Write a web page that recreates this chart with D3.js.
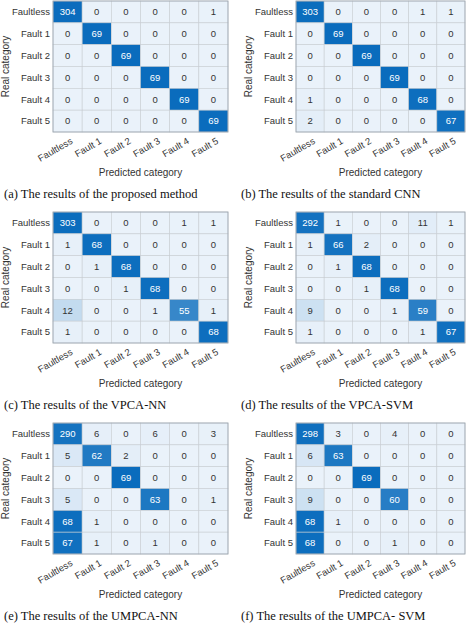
<!DOCTYPE html>
<html><head><meta charset="utf-8">
<script src="https://cdn.jsdelivr.net/npm/d3@7"></script>
<style>body{margin:0;background:#fff}</style>
</head><body><svg width="474" height="624"></svg>
<script>
const categories = ["Faultless", "Fault 1", "Fault 2", "Fault 3", "Fault 4", "Fault 5"];
const matA = [[304,0,0,0,0,1],[0,69,0,0,0,0],[0,0,69,0,0,0],[0,0,0,69,0,0],[0,0,0,0,69,0],[0,0,0,0,0,69]];
const matB = [[303,0,0,0,1,1],[0,69,0,0,0,0],[0,0,69,0,0,0],[0,0,0,69,0,0],[1,0,0,0,68,0],[2,0,0,0,0,67]];
const matC = [[303,0,0,0,1,1],[1,68,0,0,0,0],[0,1,68,0,0,0],[0,0,1,68,0,0],[12,0,0,1,55,1],[1,0,0,0,0,68]];
const matD = [[292,1,0,0,11,1],[1,66,2,0,0,0],[0,1,68,0,0,0],[0,0,1,68,0,0],[9,0,0,1,59,0],[1,0,0,0,1,67]];
const matE = [[290,6,0,6,0,3],[5,62,2,0,0,0],[0,0,69,0,0,0],[5,0,0,63,0,1],[68,1,0,0,0,0],[67,1,0,1,0,0]];
const matF = [[298,3,0,4,0,0],[6,63,0,0,0,0],[0,0,69,0,0,0],[9,0,0,60,0,0],[68,1,0,0,0,0],[68,0,0,1,0,0]];
const captions = ["(a) The results of the proposed method", "(b) The results of the standard CNN",
  "(c) The results of the VPCA-NN", "(d) The results of the VPCA-SVM",
  "(e) The results of the UMPCA-NN", "(f) The results of the UMPCA- SVM"];

const svg = d3.select("svg");
const color = d3.scaleLinear().domain([0, 1]).range(["#eaf2fa", "#0a6cbd"]);
const panels = [matA, matB, matC, matD, matE, matF];
const colX = [[53, 228], [296, 465]];
const rowY = [1, 212, 423];
const gridH = 131;

panels.forEach((m, k) => {
  const [x0, x1] = colX[k % 2];
  const y0 = rowY[Math.floor(k / 2)];
  const x = d3.scaleBand().domain(categories).range([x0, x1]);
  const y = d3.scaleBand().domain(categories).range([y0, y0 + gridH]);
  const g = svg.append("g").style("font-family", "Arial, 'Liberation Sans', sans-serif");
  m.forEach((row, i) => {
    const sum = d3.sum(row);
    row.forEach((v, j) => {
      const f = v / sum;
      g.append("rect").attr("x", x(categories[j])).attr("y", y(categories[i]))
        .attr("width", x.bandwidth()).attr("height", y.bandwidth())
        .attr("fill", color(f)).attr("stroke", "#c8cdd3").attr("stroke-width", 0.6);
      g.append("text").attr("x", x(categories[j]) + x.bandwidth() / 2)
        .attr("y", y(categories[i]) + y.bandwidth() / 2).attr("dy", "0.35em")
        .attr("text-anchor", "middle").attr("font-size", 9.5)
        .attr("fill", f > 0.5 ? "#fff" : "#333").text(v);
    });
  });
  g.append("rect").attr("x", x0).attr("y", y0).attr("width", x1 - x0).attr("height", gridH)
    .attr("fill", "none").attr("stroke", "#9aa3ad").attr("stroke-width", 0.8);
  categories.forEach(c => {
    g.append("text").attr("x", x0 - 3).attr("y", y(c) + y.bandwidth() / 2).attr("dy", "0.35em")
      .attr("text-anchor", "end").attr("font-size", 9.5).attr("fill", "#333").text(c);
    g.append("text").attr("transform", `translate(${x(c) + x.bandwidth() / 2 + 4},${y0 + gridH + 8}) rotate(-30)`)
      .attr("text-anchor", "end").attr("dy", "0.35em").attr("font-size", 9.5).attr("fill", "#333").text(c);
  });
  g.append("text").attr("x", (x0 + x1) / 2).attr("y", y0 + gridH + 44).attr("text-anchor", "middle")
    .attr("font-size", 10).attr("fill", "#333").text("Predicted category");
  g.append("text").attr("transform", `translate(${x0 - 44},${y0 + gridH / 2}) rotate(-90)`)
    .attr("text-anchor", "middle").attr("font-size", 10).attr("fill", "#333").text("Real category");
  svg.append("text").attr("x", k % 2 ? 241 : 4).attr("y", y0 + gridH + 66)
    .attr("font-family", "'Liberation Serif', 'Times New Roman', serif").attr("font-size", 12.5)
    .attr("fill", "#111").text(captions[k]);
});
</script></body></html>
